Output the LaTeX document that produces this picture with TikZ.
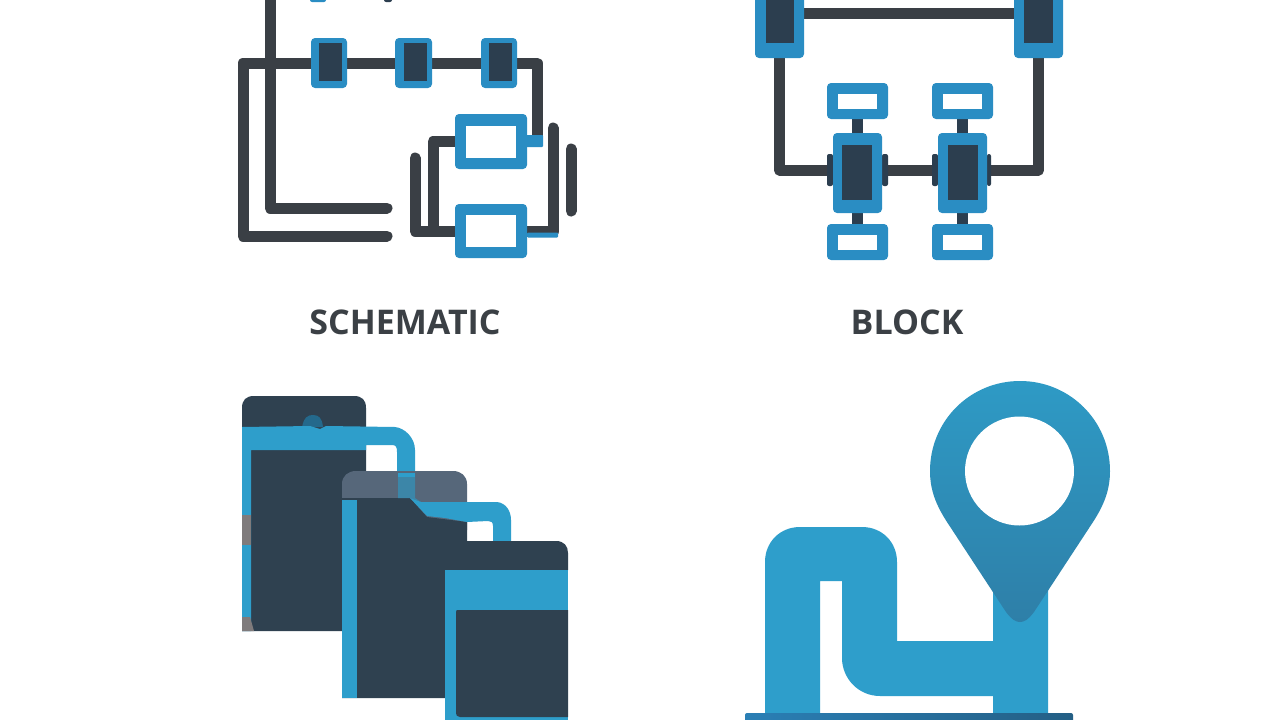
\documentclass[tikz,border=0pt]{standalone}
\usepackage{fontspec}
\setmainfont{Open Sans}
\definecolor{wirecol}{HTML}{3A3F45}
\definecolor{corecol}{HTML}{2C3E4F}
\definecolor{framecol}{HTML}{2A8DC3}
\definecolor{bagblue}{HTML}{2E9ECB}
\definecolor{bagdark}{HTML}{2F4150}
\definecolor{baggrey}{HTML}{56677A}
\definecolor{bagpatch}{HTML}{7F7B7C}
\definecolor{handledark}{HTML}{3C86A8}
\definecolor{bumpcol}{HTML}{24698C}
\definecolor{pintop}{HTML}{2E9AC5}
\definecolor{pinmid}{HTML}{2C92BE}
\definecolor{pinbot}{HTML}{2E7FA8}
\definecolor{baseleft}{HTML}{2A7FB5}
\definecolor{baseright}{HTML}{245F85}
\definecolor{labelcol}{HTML}{3B4045}
\pgfdeclarelayer{wires}
\pgfsetlayers{wires,main}

\begin{document}
\begin{tikzpicture}[x=1pt,y=-1pt,
    wire/.style={draw=wirecol,line width=11pt,line cap=round,line join=round},
    stem/.style={draw=corecol,line width=11pt},
    frame/.style={rectangle,fill=framecol,inner sep=0pt,outer sep=0pt,rounded corners=4pt},
    core/.style={rectangle,fill=corecol,inner sep=0pt,outer sep=0pt},
    hole/.style={rectangle,fill=white,inner sep=0pt,outer sep=0pt},
    tab/.style={rectangle,fill=corecol,inner sep=0pt,outer sep=0pt,rounded corners=2pt,minimum width=6pt,minimum height=32pt},
    title/.style={text=labelcol,font=\fontsize{34}{40}\selectfont\bfseries,inner sep=0pt}]
  \useasboundingbox (0,0) rectangle (1280,720);
  \clip (0,0) rectangle (1280,720);

  % schematic
  \node at (329,63) [frame,minimum width=36pt,minimum height=50pt] (sq1) {};
  \node at (330.5,62) [core,minimum width=23pt,minimum height=38pt] (sq1c) {};
  \node at (413.5,63) [frame,minimum width=37pt,minimum height=50pt] (sq2) {};
  \node at (415,62) [core,minimum width=23pt,minimum height=38pt] (sq2c) {};
  \node at (499,63) [frame,minimum width=36pt,minimum height=50pt] (sq3) {};
  \node at (500,62) [core,minimum width=23pt,minimum height=38pt] (sq3c) {};
  \node at (491,141.5) [frame,minimum width=72pt,minimum height=55pt] (hb1) {};
  \node at (491,142) [hole,minimum width=50pt,minimum height=32pt] (hb1c) {};
  \node at (491,231) [frame,minimum width=72pt,minimum height=54pt] (hb2) {};
  \node at (491,231) [hole,minimum width=50pt,minimum height=32pt] (hb2c) {};
  \node at (534.5,141) [frame,rounded corners=1pt,minimum width=17pt,minimum height=12pt] (patch1) {};
  \node at (542.5,235) [frame,rounded corners=1pt,minimum width=31pt,minimum height=5pt] (patch2) {};
  \node at (318,-2) [frame,rounded corners=2pt,minimum width=16pt,minimum height=8pt] (frag1) {};
  \node at (388,-2) [core,rounded corners=2pt,minimum width=8pt,minimum height=8pt] (frag2) {};
  \coordinate (topend) at (270,-10);
  \coordinate (midend) at (387,208);
  \coordinate (lowend) at (387,236);
  \coordinate (corner) at (243,63);
  \coordinate (drop) at (537,135);
  \coordinate (leftup) at (433,231);
  \coordinate (leftend) at (415,158);
  \coordinate (rightend) at (553,128);
  \coordinate (farA) at (571,149);
  \coordinate (farB) at (571,211);
  \begin{pgfonlayer}{wires}
    \fill[white] (0,0) rectangle (1280,720);
    \draw[wire] (sq1) -- (sq2);
    \draw[wire] (sq2) -- (sq3);
    \draw[wire] (sq3) -| (drop);
    \draw[wire] (lowend) -| (corner) -- (sq1);
    \draw[wire] (topend) |- (midend);
    \draw[wire] (hb1) -| (leftup);
    \draw[wire] (hb2) -| (leftend);
    \draw[wire] (hb2) -| (rightend);
    \draw[wire] (farA) -- (farB);
  \end{pgfonlayer}
  \node at (405,322) [title] (schem) {SCHEMATIC};

  % block
  \node at (779.5,13) [frame,minimum width=49pt,minimum height=90pt] (tl) {};
  \node at (780,13) [core,minimum width=28pt,minimum height=60pt] (tlc) {};
  \node at (1038.5,13) [frame,minimum width=49pt,minimum height=90pt] (tr) {};
  \node at (1038.5,13) [core,minimum width=29pt,minimum height=60pt] (trc) {};
  \node at (830,170) [tab] (ta) {};
  \node at (885,170) [tab] (tb) {};
  \node at (935,170) [tab] (tc) {};
  \node at (989,170) [tab,minimum width=4pt] (td) {};
  \node at (857.5,173) [frame,minimum width=49pt,minimum height=80pt] (cl) {};
  \node at (857,172.5) [core,minimum width=30pt,minimum height=55pt] (clc) {};
  \node at (962.5,173) [frame,minimum width=49pt,minimum height=80pt] (cr) {};
  \node at (963,172.5) [core,minimum width=30pt,minimum height=55pt] (crc) {};
  \node at (857.5,101) [frame,minimum width=61pt,minimum height=36pt] (s1) {};
  \node at (857.5,101.5) [hole,minimum width=39pt,minimum height=15pt] (s1c) {};
  \node at (962.5,101) [frame,minimum width=61pt,minimum height=36pt] (s2) {};
  \node at (962.5,101.5) [hole,minimum width=39pt,minimum height=15pt] (s2c) {};
  \node at (857.5,242) [frame,minimum width=61pt,minimum height=36pt] (s3) {};
  \node at (857.5,242.5) [hole,minimum width=39pt,minimum height=15pt] (s3c) {};
  \node at (962.5,242) [frame,minimum width=61pt,minimum height=36pt] (s4) {};
  \node at (962.5,242.5) [hole,minimum width=39pt,minimum height=15pt] (s4c) {};
  \begin{pgfonlayer}{wires}
    \draw[wire] (tl) -- (tr);
    \draw[wire] (tl) |- (ta);
    \draw[wire] (tr) |- (td);
    \draw[wire] (tb) -- (tc);
    \draw[stem] (s1) -- (cl);
    \draw[stem] (s2) -- (cr);
    \draw[stem] (cl) -- (s3);
    \draw[stem] (cr) -- (s4);
  \end{pgfonlayer}
  \node at (907,322) [title] (blocklab) {BLOCK};

  % bags
  \fill[bagdark] (242,427) -- (242,408) .. controls (242,400) and (246,396) .. (254,396) -- (354,396) .. controls (362,396) and (366,400) .. (366,408) -- (366,631) -- (242,631) -- cycle;
  \fill[bumpcol] (302,427) .. controls (304,417) and (308,415) .. (313,415) .. controls (319,415) and (322,418) .. (323,427) -- cycle;
  \fill[bagblue] (242,427) -- (310,426) -- (320,429) -- (326,426) -- (395,427) .. controls (405,428) and (415,438) .. (415,450) -- (415,473) -- (397,473) -- (397,452) .. controls (397,447) and (396,445) .. (392,445) -- (366,445) -- (366,450) -- (251,450) -- (251,631) -- (242,631) -- cycle;
  \fill[bagpatch] (242,515) -- (251,515) -- (251,545) -- (242,545) -- cycle;
  \fill[bagpatch] (242,617) -- (250,617) -- (254,631) -- (242,631) -- cycle;
  \fill[baggrey] (342,498) -- (342,484) .. controls (342,476) and (348,471) .. (356,471) -- (453,471) .. controls (461,471) and (467,476) .. (467,484) -- (467,530) -- (342,530) -- cycle;
  \fill[bagdark] (342,498) -- (410,498) -- (427,517) -- (467,522) -- (467,698) -- (342,698) -- cycle;
  \fill[bagblue] (342,500) -- (357,500) -- (357,698) -- (342,698) -- cycle;
  \fill[handledark] (398,473) -- (415,473) -- (415,498) -- (421,502) -- (410,498) -- (398,498) -- cycle;
  \fill[bagblue] (398,473) -- (415,473) -- (415,477) -- (398,477) -- cycle;
  \fill[bagblue] (410,498) -- (421,502) -- (497,502) .. controls (506,503) and (511,511) .. (511,520) -- (511,542) -- (493,542) -- (493,526) .. controls (493,522) and (491,521) .. (488,521) -- (467,522) -- (445,518) -- (427,516) -- cycle;
  \fill[bagdark] (445,570) -- (445,541) -- (556,541) .. controls (564,541) and (568,546) .. (568,553) -- (568,570) -- cycle;
  \fill[bagblue] (445,570) -- (568,570) -- (568,720) -- (445,720) -- cycle;
  \fill[bagdark] (456,612) .. controls (456,610) and (457,610) .. (458,610) -- (568,610) -- (568,717) -- (460,717) .. controls (457,717) and (456,715) .. (456,713) -- cycle;

  % pin
  \fill[bagblue] (765,713) -- (765,562) .. controls (765,542) and (780,527) .. (800,527) -- (862,527) .. controls (882,527) and (897,542) .. (897,562) -- (897,641) -- (993,641) -- (993,590) -- (1048,590) -- (1048,713) -- (993,713) -- (993,696) -- (880,696) .. controls (858,696) and (842,678) .. (842,658) -- (842,581) -- (820,581) -- (820,713) -- cycle;
  \shade[top color=pintop,middle color=pinmid,bottom color=pinbot] (1006,612) -- (947,522) .. controls (936,505) and (930,490) .. (930,471) .. controls (930,421) and (970,381) .. (1020,381) .. controls (1070,381) and (1110,421) .. (1110,471) .. controls (1110,490) and (1104,505) .. (1093,522) -- (1034,612) .. controls (1028,620) and (1024,622) .. (1020,622) .. controls (1016,622) and (1012,620) .. (1006,612) -- cycle;
  \fill[white] (1019.5,471) circle [radius=54.5pt];
  \shade[left color=baseleft,right color=baseright,rounded corners=2pt] (745,713) rectangle (1073,725);
\end{tikzpicture}
\end{document}
